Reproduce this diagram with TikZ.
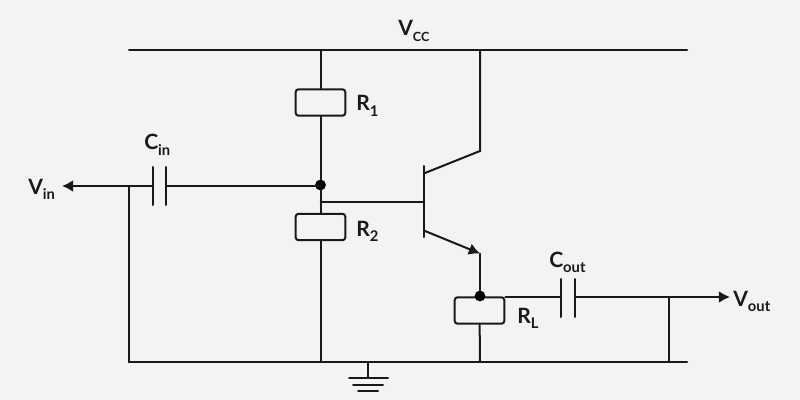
\documentclass[tikz,border=0pt]{standalone}
\usepackage{fontspec}
\setmainfont{Lato}
\usetikzlibrary{arrows.meta}
\definecolor{sheet}{HTML}{F3F3F3}
\newcommand{\sublabel}[3][10.5]{\fontsize{15}{15}\selectfont\bfseries #2\raisebox{-4.2pt}{\fontsize{#1}{#1}\selectfont #3}}
\tikzset{
    wire/.style={line width=0.05cm,black!90,line cap=round},
    arrowwire/.style={wire,-{Latex[length=0.28cm,width=0.3cm]}},
    resbox/.style={draw,line width=0.05cm,black!90,fill=sheet,rounded corners=0.07cm,minimum width=1.24cm,minimum height=0.66cm,inner sep=0pt},
    dotnode/.style={circle,fill=black,minimum size=0.27cm,inner sep=0pt},
    lbl/.style={anchor=base west,inner sep=0pt,text=black!90}
}
\begin{document}
\begin{tikzpicture}[x=0.025cm,y=-0.025cm]
    % Sfondo
    \fill[sheet] (0,0) rectangle (800,400);
    \useasboundingbox (0,0) rectangle (800,400);

    % Punti di riferimento
    \coordinate (vccL) at (129,50);
    \coordinate (vccR) at (687,50);
    \coordinate (gndL) at (129,362);
    \coordinate (gndR) at (687,362);
    \coordinate (vccA) at (320.5,50);
    \coordinate (vccC) at (480,50);
    \coordinate (gndA) at (320.5,362);
    \coordinate (gndE) at (480,362);
    \coordinate (gndO) at (669,362);
    \coordinate (gndS) at (368,362);
    \coordinate (baseJ) at (320.5,201.5);
    \coordinate (baseB) at (424,201.5);
    \coordinate (inJ) at (129,186);
    \coordinate (outJ) at (669,297);
    \coordinate (inTip) at (62,186);
    \coordinate (outTip) at (730,297);

    % Resistenze e nodi
    \node[dotnode] (dotB) at (320.5,185) {};
    \node[resbox] (R1) at (320.5,102.5) {};
    \node[resbox] (R2) at (320.5,227) {};
    \node[resbox] (RL) at (479.5,310.5) {};
    \node[dotnode] (dotE) at (480,296) {};

    % Alimentazione e massa
    \draw[wire] (vccL) -- (vccR);
    \draw[wire] (gndL) -- (gndR);
    \node[lbl] (lVcc) at (398,36) {\sublabel[9]{V}{CC}};

    % Partitore di base
    \draw[wire] (vccA) -- (R1);
    \draw[wire] (R1) -- (dotB);
    \draw[wire] (dotB) -- (R2);
    \draw[wire] (R2) -- (gndA);
    \node[lbl] (lR1) at (356,111) {\sublabel{R}{1}};
    \node[lbl] (lR2) at (356,236) {\sublabel{R}{2}};

    % Transistor
    \coordinate (barT) at (424,166);
    \coordinate (barB) at (424,237);
    \coordinate (colS) at (425,173);
    \coordinate (colE) at (480,151);
    \coordinate (emiS) at (425,231);
    \coordinate (emiE) at (480,253.5);
    \draw[wire] (baseJ) -- (baseB);
    \draw[wire] (barT) -- (barB);
    \draw[wire] (colS) -- (colE) -- (vccC);
    \draw[arrowwire] (emiS) -- (emiE);
    \draw[wire] (emiE) -- (dotE);
    \draw[wire] (RL) -- (gndE);
    \node[lbl] (lRL) at (517,323) {\sublabel{R}{L}};

    % Condensatore di ingresso
    \coordinate (cinA) at (153,186);
    \coordinate (cinB) at (166,186);
    \draw[wire] (153,167) -- (153,205);
    \draw[wire] (166,167) -- (166,205);
    \draw[arrowwire] (cinA) -- (inTip);
    \draw[wire] (cinB) -- (cinB -| dotB);
    \draw[wire] (inJ) -- (gndL);
    \node[lbl] (lCin) at (144,150) {\sublabel{C}{in}};
    \node[lbl] (lVin) at (28,194) {\sublabel{V}{in}};

    % Condensatore di uscita
    \coordinate (coutA) at (561,297);
    \coordinate (coutB) at (575,297);
    \draw[wire] (561,279) -- (561,317);
    \draw[wire] (575,279) -- (575,317);
    \draw[wire] (coutA -| RL.east) -- (coutA);
    \draw[arrowwire] (coutB) -- (outTip);
    \draw[wire] (outJ) -- (gndO);
    \node[lbl] (lCout) at (549,267) {\sublabel{C}{out}};
    \node[lbl] (lVout) at (733,306) {\sublabel{V}{out}};

    % Simbolo di massa
    \draw[wire] (gndS) -- (368,377.5);
    \draw[wire] (349,377.5) -- (388,377.5);
    \draw[wire] (353,384.5) -- (383,384.5);
    \draw[wire] (358,390.5) -- (378,390.5);
\end{tikzpicture}
\end{document}
